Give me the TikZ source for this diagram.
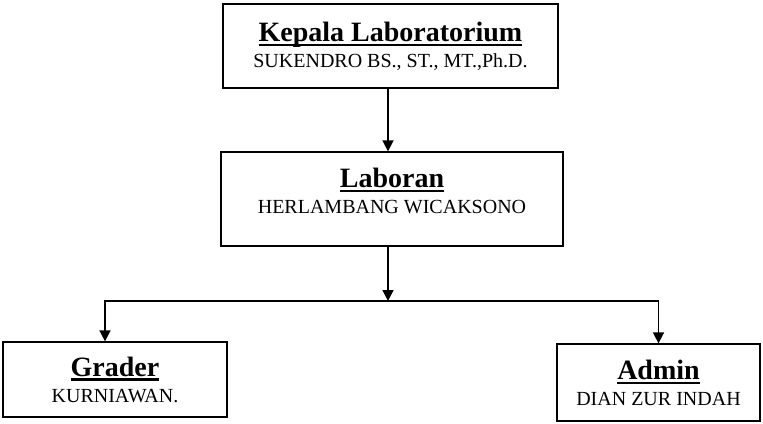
\documentclass[tikz,border=0pt]{standalone}
\usepackage{fontspec}
\setmainfont{Liberation Serif}
\usetikzlibrary{arrows.meta,positioning}

\newcommand{\boxhead}[1]{{\fontsize{28}{28}\selectfont\bfseries
  \setbox0\hbox{#1}\rlap{\rule[-5pt]{\wd0}{2.6pt}}\box0}}

\begin{document}
\begin{tikzpicture}[
  x=1pt, y=-1pt,
  >={Triangle[width=11pt,length=11pt]},
  unit/.style={rectangle, draw, line width=1.3pt, align=center,
    font=\fontsize{20}{26}\selectfont, inner sep=0pt},
  arrow/.style={->, line width=1.7pt}
]
\useasboundingbox (0,0) rectangle (763,423);
\node[unit, minimum width=335pt, minimum height=84pt] (kepala) at (390.5,46) {\boxhead{Kepala Laboratorium}\\[0pt]SUKENDRO BS., ST., MT.,Ph.D.};
\node[unit, minimum width=342pt, minimum height=94pt, text depth=17pt] (laboran) at (392,199) {\boxhead{Laboran}\\[0pt]HERLAMBANG WICAKSONO};
\node[unit, minimum width=224pt, minimum height=75pt] (grader) at (115,379.5) {\boxhead{Grader}\\[0pt]KURNIAWAN.};
\node[unit, minimum width=203pt, minimum height=77pt] (admin) at (658.5,382.5) {\boxhead{Admin}\\[0pt]DIAN ZUR INDAH};
\coordinate (split) at (388,301);
\draw[arrow] (kepala.south -| split) -- (laboran.north -| split);
\draw[arrow] (laboran.south -| split) -- (split);
\draw[arrow] (split) -| ([xshift=-10pt]grader.north);
\draw[arrow] (split) -| (admin.north);
\end{tikzpicture}
\end{document}
